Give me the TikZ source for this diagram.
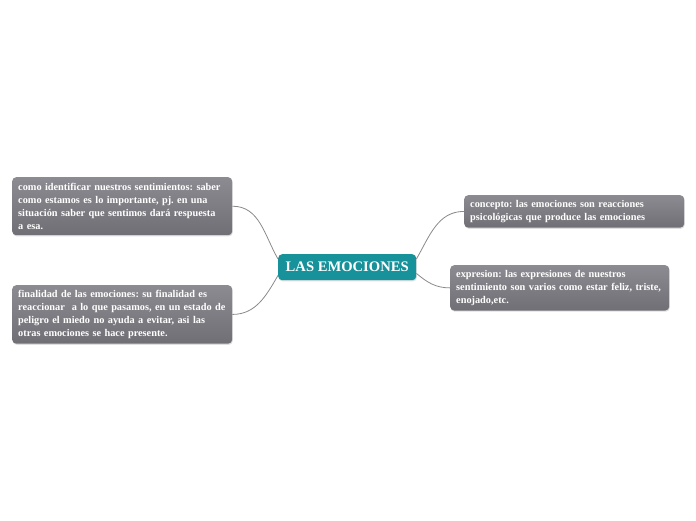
\documentclass[tikz,border=0pt]{standalone}
\usepackage{fontspec}
\setmainfont{Liberation Serif}
\usetikzlibrary{shadows}

\definecolor{rootteal}{HTML}{17929B}
\definecolor{topictop}{HTML}{8B8B91}
\definecolor{topicbot}{HTML}{6F6F75}
\definecolor{linkgray}{HTML}{8A8A8A}

\begin{document}
\frenchspacing
\begin{tikzpicture}[x=1pt,y=-1pt,
    every node/.style={anchor=north west,inner sep=0pt},
    topic/.style={rounded corners=4pt,top color=topictop,bottom color=topicbot,
      text=white,font=\fontsize{10.3}{13}\selectfont\bfseries,align=left,
      inner xsep=6pt,inner ysep=5pt,
      drop shadow={shadow xshift=0.6pt,shadow yshift=-1.2pt,opacity=0.25}},
    root/.style={rounded corners=4pt,fill=rootteal,text=white,
      font=\fontsize{14.6}{16}\selectfont\bfseries,
      minimum width=138pt,minimum height=26pt,
      drop shadow={shadow xshift=0.6pt,shadow yshift=-1.2pt,opacity=0.25}},
    link/.style={draw=linkgray,line width=0.8pt}]
    \useasboundingbox (0,0) rectangle (696,520);

    \node[root] (emociones) at (278,254) {LAS EMOCIONES};

    \node[topic,text width=208pt,minimum height=58pt] (identificar) at (12,177)
      {como identificar nuestros sentimientos: saber\\como estamos es lo importante, pj. en una\\situación saber que sentimos dará respuesta\\a esa.};
    \node[topic,text width=208pt,minimum height=57pt] (finalidad) at (12,285)
      {finalidad de las emociones: su finalidad es\\reaccionar\ \ a lo que pasamos, en un estado de\\peligro el miedo no ayuda a evitar, asi las\\otras emociones se hace presente.};
    \node[topic,text width=208pt,minimum height=32pt] (concepto) at (464,195)
      {concepto: las emociones son reacciones\\psicológicas que produce las emociones};
    \node[topic,text width=207pt,minimum height=45pt] (expresion) at (450,265)
      {expresion: las expresiones de nuestros\\sentimiento son varios como estar feliz, triste,\\enojado,etc.};

    \path[link] ([yshift=-5pt]emociones.north west) edge[out=120,in=0] (identificar.east);
    \path[link] ([yshift=5pt]emociones.south west) edge[out=240,in=0] (finalidad.east);
    \path[link] ([yshift=-5pt]emociones.north east) edge[out=60,in=180] (concepto.west);
    \path[link] ([yshift=7pt]emociones.south east) edge[out=-40,in=180] (expresion.west);
  \end{tikzpicture}
\end{document}
